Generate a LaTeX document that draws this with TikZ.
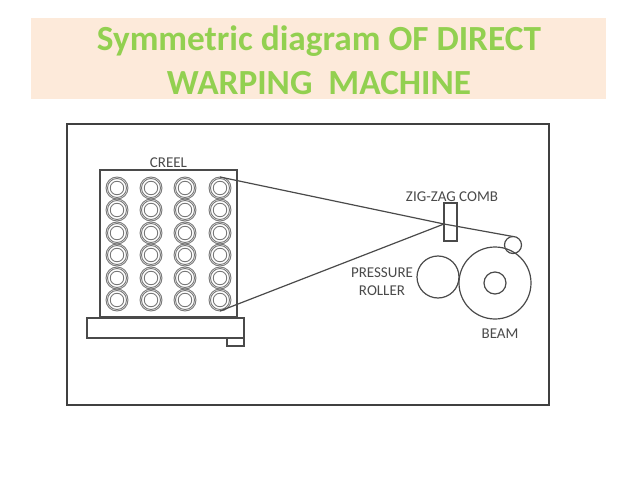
\documentclass[tikz,border=0pt]{standalone}
\usepackage{fontspec}
\setmainfont{Carlito}
\usepackage{tikz}
\usetikzlibrary{positioning,calc}
\definecolor{bandcol}{HTML}{FDEADA}
\definecolor{titlecol}{HTML}{92D050}
\definecolor{inkcol}{HTML}{4A4A4A}
\tikzset{
  part/.style={draw=inkcol, line width=1.2pt, inner sep=0pt, outer sep=0pt},
  roller/.style={part, circle},
  ring/.style={draw=inkcol!75, line width=0.9pt, circle, inner sep=0pt, outer sep=0pt},
  thread/.style={draw=inkcol, line width=1.2pt},
  lbl/.style={font=\fontsize{15}{15}\selectfont, text=inkcol, inner sep=0pt, align=center}
}
\begin{document}
\begin{tikzpicture}[x=1pt, y=-1pt]
  \useasboundingbox (0,0) rectangle (638,479);
  % title band
  \node[fill=bandcol, minimum width=575pt, minimum height=81pt, inner sep=0pt] (band) at (318.5,58.5) {};
  \node[font=\fontsize{35.3}{44}\selectfont\bfseries, text=titlecol, align=center, inner sep=0pt] (title) at (319,60)
    {Symmetric diagram OF DIRECT\\WARPING\ \ MACHINE};
  % outer frame
  \node[draw=black!75, line width=1.7pt, minimum width=482pt, minimum height=281pt, inner sep=0pt] (frame) at (308,264.5) {};
  % creel and its base
  \node[part, minimum width=137pt, minimum height=147pt] (creel) at (168.5,243.5) {};
  \node[part, minimum width=157pt, minimum height=20pt, below=1pt of creel.south, xshift=-3pt] (base) {};
  \node[part, minimum width=17pt, minimum height=8pt, anchor=north east] (foot) at (base.south east) {};
  \node[lbl, above=2pt of creel] (creellbl) {CREEL};
  % bobbins
  \foreach \cx [count=\c] in {117,151,185,220}{
    \foreach \cy [count=\r] in {188,210,233,255,278,300}{
      \node[ring, minimum size=22pt] (bob\c\r) at (\cx,\cy) {};
      \node[ring, minimum size=19pt] at (\cx,\cy) {};
      \node[ring, minimum size=13.5pt] at (\cx,\cy) {};
    }
  }
  % comb and rollers
  \node[part, minimum width=13pt, minimum height=38pt] (comb) at (450.5,222) {};
  \node[roller, minimum size=42pt] (pressure) at (438,277) {};
  \node[roller, minimum size=72pt] (beam) at (495,283) {};
  \node[roller, minimum size=22pt] (core) at (495,283) {};
  \node[roller, minimum size=17pt] (guide) at (513,245) {};
  \coordinate (cross) at (444,224);
  % yarn sheet
  \draw[thread] (bob41.north) -- (cross) -- (guide.north);
  \draw[thread] (bob46.south) -- (cross);
  % labels
  \node[lbl] (comblbl) at (452,197) {ZIG-ZAG COMB};
  \node[lbl, font=\fontsize{15}{18}\selectfont] (pressurelbl) at (382,282) {PRESSURE\\ROLLER};
  \node[lbl] (beamlbl) at (500,334) {BEAM};
\end{tikzpicture}
\end{document}
